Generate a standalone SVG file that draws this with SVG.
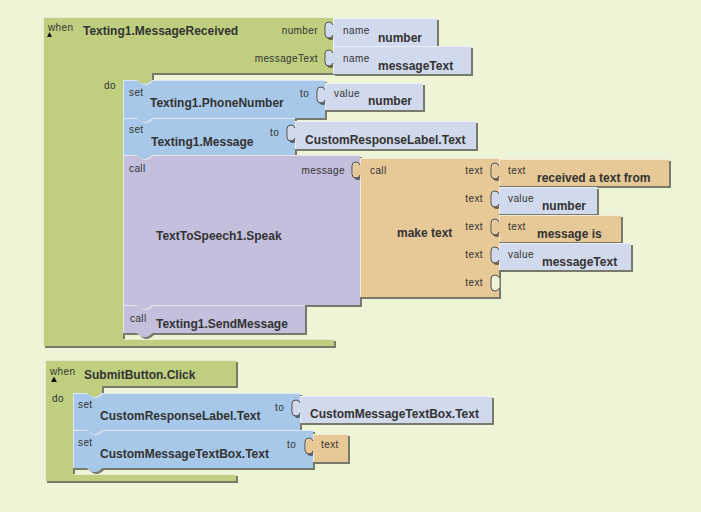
<svg xmlns="http://www.w3.org/2000/svg" width="701" height="512" viewBox="0 0 701 512">
<defs>
<filter id="bv" x="-5%" y="-5%" width="115%" height="120%">
<feOffset in="SourceAlpha" dx="1.5" dy="1.5" result="sh"/>
<feFlood flood-color="#000" flood-opacity="0.5"/>
<feComposite in2="sh" operator="in" result="shadow"/>
<feOffset in="SourceAlpha" dx="1" dy="1" result="off"/>
<feComposite in="SourceAlpha" in2="off" operator="out" result="hlA"/>
<feFlood flood-color="#fff" flood-opacity="0.55"/>
<feComposite in2="hlA" operator="in" result="hl"/>
<feMerge><feMergeNode in="shadow"/><feMergeNode in="SourceGraphic"/><feMergeNode in="hl"/></feMerge>
</filter>
<style>
.g{fill:#bfcf7f;filter:url(#bv)}
.b{fill:#a7c8e8;filter:url(#bv)}
.v{fill:#d1d9ec;filter:url(#bv)}
.p{fill:#c3bfdc;filter:url(#bv)}
.t{fill:#e7c897;filter:url(#bv)}
.k{fill:none;stroke:#4d4d4d;stroke-width:1}
.lb{font-family:"Liberation Sans",Arial,sans-serif;font-size:10px;fill:#333;letter-spacing:0.4px}
.r{text-anchor:end}
.bd{font-family:"Liberation Sans",Arial,sans-serif;font-size:12px;font-weight:bold;fill:#333}
.hole{fill:#eef4d6;stroke:#4d4d4d;stroke-width:1}
</style>
</defs>
<rect width="701" height="512" fill="#eef4d6"/>

<g id="when-message-received">
<path class="g" d="M43,17 H333 V73 H152 V80 Q148,84 144.5,84 Q141,84 137,80 H123 V339 H334 V346 H43 Z"/>
<text class="lb" x="48" y="31">when</text>
<polygon points="47,37 52,37 49.5,32" fill="#111"/>
<text class="bd" x="83" y="35">Texting1.MessageReceived</text>
<text class="lb r" x="318" y="34">number</text>
<text class="lb r" x="318" y="62">messageText</text>
<text class="lb" x="104" y="89">do</text>
</g>

<g id="name-number">
<path class="v" d="M333,18 H437 V46 H333 V35 Q332,38 329,38 Q325,38 325,34 V26 Q325,22 329,22 Q332,22 333,25 Z"/>
<path class="k" d="M333,35 Q332,38 329,38 Q325,38 325,34 V26 Q325,22 329,22 Q332,22 333,25"/>
<text class="lb" x="343" y="34">name</text>
<text class="bd" x="378" y="42">number</text>
</g>
<g id="name-messageText">
<path class="v" d="M333,46 H471 V74 H333 V63 Q332,66 329,66 Q325,66 325,62 V54 Q325,50 329,50 Q332,50 333,53 Z"/>
<path class="k" d="M333,63 Q332,66 329,66 Q325,66 325,62 V54 Q325,50 329,50 Q332,50 333,53"/>
<text class="lb" x="343" y="62">name</text>
<text class="bd" x="378" y="70">messageText</text>
</g>

<g id="set-phonenumber">
<path class="b" d="M123,80 H137 Q141,84 144.5,84 Q148,84 152,80 H325 V118 H152 Q148,122 144.5,122 Q141,122 137,118 H123 Z"/>
<text class="lb" x="129" y="96">set</text>
<text class="bd" x="150" y="107">Texting1.PhoneNumber</text>
<text class="lb" x="300" y="97">to</text>
</g>
<g id="value-number">
<path class="v" d="M325,83 H423 V110 H325 V100 Q324,103 321,103 Q317,103 317,99 V91 Q317,87 321,87 Q324,87 325,90 Z"/>
<path class="k" d="M325,100 Q324,103 321,103 Q317,103 317,99 V91 Q317,87 321,87 Q324,87 325,90"/>
<text class="lb" x="334" y="97">value</text>
<text class="bd" x="368" y="105">number</text>
</g>

<g id="set-message">
<path class="b" d="M123,118 H137 Q141,122 144.5,122 Q148,122 152,118 H295 V155 H152 Q148,159 144.5,159 Q141,159 137,155 H123 Z"/>
<text class="lb" x="129" y="133">set</text>
<text class="bd" x="151" y="146">Texting1.Message</text>
<text class="lb" x="270" y="136">to</text>
</g>
<g id="value-customresponselabel">
<path class="v" d="M295,121 H476 V149 H295 V138 Q294,141 291,141 Q287,141 287,137 V129 Q287,125 291,125 Q294,125 295,128 Z"/>
<path class="k" d="M295,138 Q294,141 291,141 Q287,141 287,137 V129 Q287,125 291,125 Q294,125 295,128"/>
<text class="bd" x="305" y="144">CustomResponseLabel.Text</text>
</g>

<g id="call-speak">
<path class="p" d="M123,155 H137 Q141,159 144.5,159 Q148,159 152,155 H360 V305 H152 Q148,309 144.5,309 Q141,309 137,305 H123 Z"/>
<text class="lb" x="129" y="172">call</text>
<text class="lb r" x="345" y="174">message</text>
<text class="bd" x="156" y="240">TextToSpeech1.Speak</text>
</g>

<g id="make-text">
<path class="t" d="M360,158 H499 V297 H360 V175 Q359,178 356,178 Q352,178 352,174 V166 Q352,162 356,162 Q359,162 360,165 Z"/>
<path class="k" d="M360,175 Q359,178 356,178 Q352,178 352,174 V166 Q352,162 356,162 Q359,162 360,165"/>
<path class="hole" d="M499.5,288 Q498,291 495,291 Q491,291 491,287 V279 Q491,275 495,275 Q498,275 499.5,278"/>
<text class="lb" x="370" y="174">call</text>
<text class="bd" x="397" y="237">make text</text>
<text class="lb r" x="483" y="174">text</text>
<text class="lb r" x="483" y="202">text</text>
<text class="lb r" x="483" y="230">text</text>
<text class="lb r" x="483" y="258">text</text>
<text class="lb r" x="483" y="286">text</text>
</g>

<g id="text-received">
<path class="t" d="M499,159 H669 V186 H499 V176 Q498,179 495,179 Q491,179 491,175 V167 Q491,163 495,163 Q498,163 499,166 Z"/>
<path class="k" d="M499,176 Q498,179 495,179 Q491,179 491,175 V167 Q491,163 495,163 Q498,163 499,166"/>
<text class="lb" x="508" y="174">text</text>
<text class="bd" x="537" y="182">received a text from</text>
</g>
<g id="value-number-2">
<path class="v" d="M499,187 H597 V214 H499 V204 Q498,207 495,207 Q491,207 491,203 V195 Q491,191 495,191 Q498,191 499,194 Z"/>
<path class="k" d="M499,204 Q498,207 495,207 Q491,207 491,203 V195 Q491,191 495,191 Q498,191 499,194"/>
<text class="lb" x="508" y="202">value</text>
<text class="bd" x="542" y="210">number</text>
</g>
<g id="text-message-is">
<path class="t" d="M499,215 H621 V242 H499 V232 Q498,235 495,235 Q491,235 491,231 V223 Q491,219 495,219 Q498,219 499,222 Z"/>
<path class="k" d="M499,232 Q498,235 495,235 Q491,235 491,231 V223 Q491,219 495,219 Q498,219 499,222"/>
<text class="lb" x="508" y="230">text</text>
<text class="bd" x="537" y="238">message is</text>
</g>
<g id="value-messageText">
<path class="v" d="M499,243 H631 V270 H499 V260 Q498,263 495,263 Q491,263 491,259 V251 Q491,247 495,247 Q498,247 499,250 Z"/>
<path class="k" d="M499,260 Q498,263 495,263 Q491,263 491,259 V251 Q491,247 495,247 Q498,247 499,250"/>
<text class="lb" x="508" y="258">value</text>
<text class="bd" x="542" y="266">messageText</text>
</g>

<g id="call-sendmessage">
<path class="p" d="M123,305 H137 Q141,309 144.5,309 Q148,309 152,305 H305 V333 H152 Q148,337 144.5,337 Q141,337 137,333 H123 Z"/>
<text class="lb" x="130" y="322">call</text>
<text class="bd" x="156" y="328">Texting1.SendMessage</text>
</g>

<g id="when-submit-click">
<path class="g" d="M45,360 H236 V386 H102 V393 Q98,397 94.5,397 Q91,397 87,393 H73 V474 H236 V481 H45 Z"/>
<text class="lb" x="50" y="375">when</text>
<polygon points="51,382 57,382 54,376.5" fill="#111"/>
<text class="bd" x="84" y="379">SubmitButton.Click</text>
<text class="lb" x="52" y="402">do</text>
</g>

<g id="set-customresponselabel">
<path class="b" d="M73,393 H87 Q91,397 94.5,397 Q98,397 102,393 H300 V430 H102 Q98,434 94.5,434 Q91,434 87,430 H73 Z"/>
<text class="lb" x="78" y="408">set</text>
<text class="bd" x="100" y="420">CustomResponseLabel.Text</text>
<text class="lb" x="275" y="411">to</text>
</g>
<g id="value-custommessagetextbox">
<path class="v" d="M300,396 H492 V423 H300 V413 Q299,416 296,416 Q292,416 292,412 V404 Q292,400 296,400 Q299,400 300,403 Z"/>
<path class="k" d="M300,413 Q299,416 296,416 Q292,416 292,412 V404 Q292,400 296,400 Q299,400 300,403"/>
<text class="bd" x="310" y="418">CustomMessageTextBox.Text</text>
</g>

<g id="set-custommessagetextbox">
<path class="b" d="M73,430 H87 Q91,434 94.5,434 Q98,434 102,430 H313 V468 H102 Q98,472 94.5,472 Q91,472 87,468 H73 Z"/>
<text class="lb" x="78" y="446">set</text>
<text class="bd" x="100" y="458">CustomMessageTextBox.Text</text>
<text class="lb" x="287" y="448">to</text>
</g>
<g id="text-empty">
<path class="t" d="M313,434 H348 V462 H313 V451 Q312,454 309,454 Q305,454 305,450 V442 Q305,438 309,438 Q312,438 313,441 Z"/>
<path class="k" d="M313,451 Q312,454 309,454 Q305,454 305,450 V442 Q305,438 309,438 Q312,438 313,441"/>
<text class="lb" x="321" y="448">text</text>
</g>
</svg>
